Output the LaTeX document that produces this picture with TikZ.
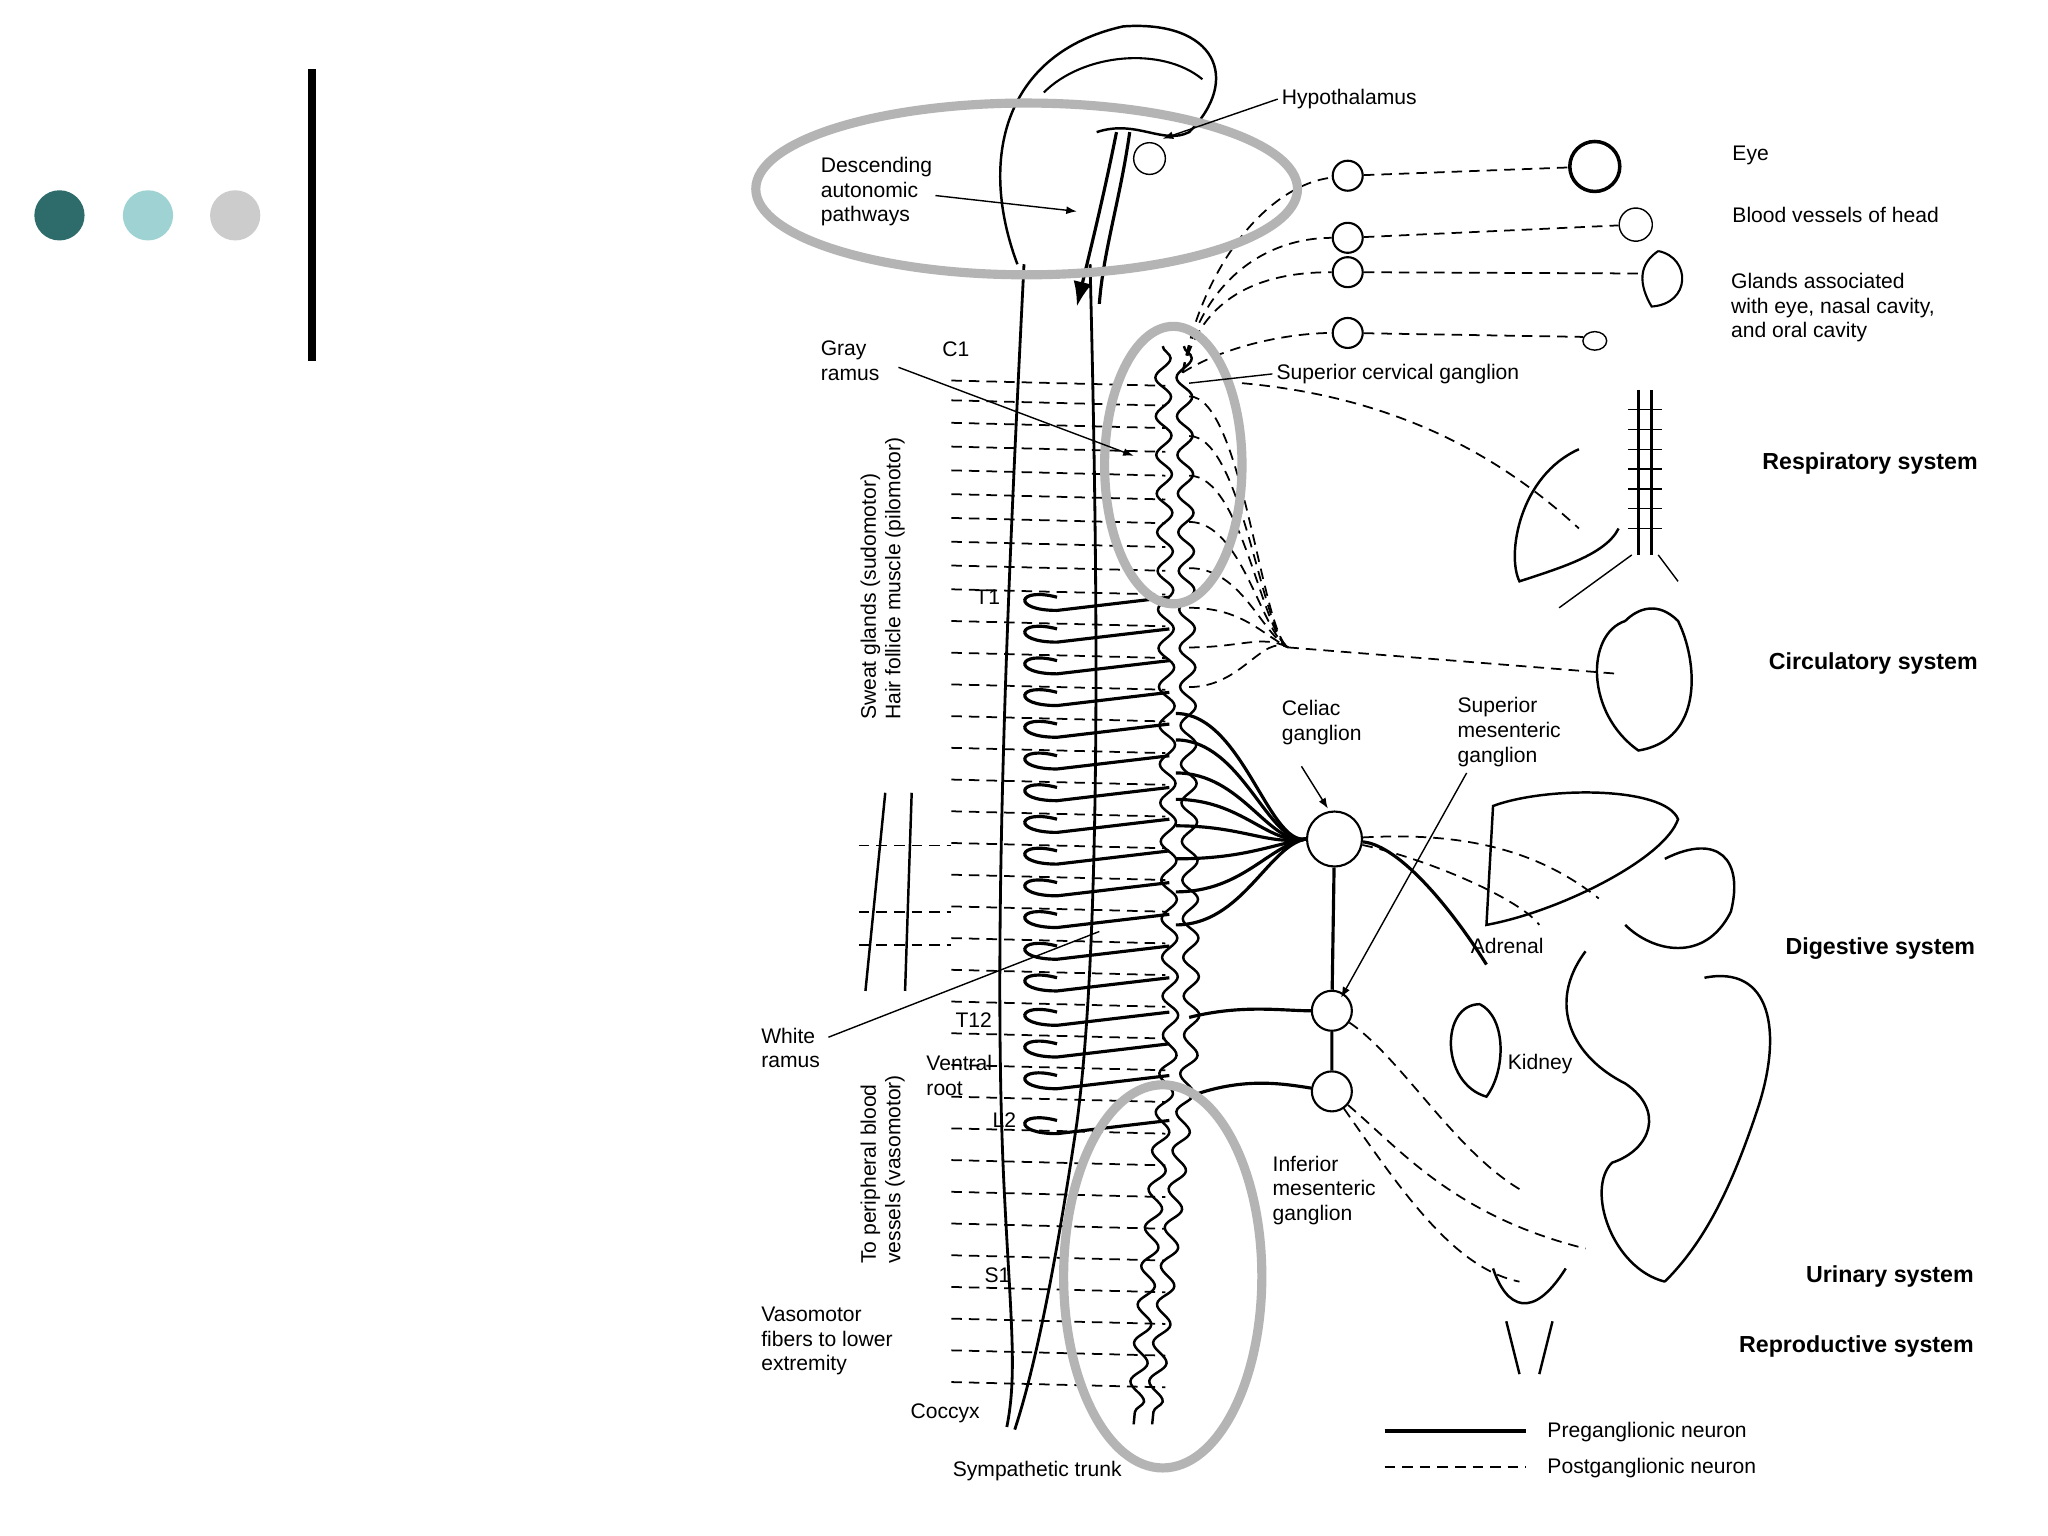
\documentclass[tikz,border=0pt]{standalone}
\usepackage{fontspec}
\setmainfont{Liberation Sans}
\usetikzlibrary{decorations.pathmorphing,arrows.meta,shapes.geometric}
\definecolor{dteal}{HTML}{2E6B6B}
\definecolor{lteal}{HTML}{9FD3D3}
\definecolor{lgray}{HTML}{CCCCCC}
\definecolor{ring}{HTML}{B4B4B4}
\tikzset{lbl/.style={font=\fontsize{6}{7}\selectfont,align=left,inner sep=1pt},
 post/.style={dashed,line width=0.5pt,dash pattern=on 3pt off 2pt},
 pre/.style={line width=0.9pt},
 gang/.style={circle,draw,line width=0.6pt,minimum size=0.3cm,inner sep=0pt},
 hl/.style={draw=ring,line width=2.6pt},
 trunk/.style={line width=0.7pt,decorate,decoration={snake,amplitude=2.2pt,segment length=11pt}}}
\begin{document}
\begin{tikzpicture}[x=0.01321cm,y=-0.01321cm]
\useasboundingbox (0,0) rectangle (1550,1162);
\fill[white] (0,0) rectangle (1550,1162);
% title dots and bar
\fill[dteal] (45,163) circle (19);
\fill[lteal] (112,163) circle (19);
\fill[lgray] (178,163) circle (19);
\fill[black] (233,52) rectangle (239,273);
% brain
\draw[line width=0.7pt] (770,200) .. controls (740,120) and (760,40) .. (850,20) .. controls (920,15) and (940,60) .. (900,100) .. controls (880,110) and (860,90) .. (830,100);
\draw[line width=0.6pt] (790,70) .. controls (820,40) and (880,35) .. (910,60);
\draw (870,120) circle (12);
% spinal cord
\draw[line width=0.8pt] (775,200) .. controls (765,400) and (750,700) .. (760,900) .. controls (765,1000) and (770,1040) .. (762,1080);
\draw[line width=0.8pt] (825,200) .. controls (830,400) and (835,700) .. (815,850) .. controls (800,950) and (785,1030) .. (768,1082);
% descending pathway arrows
\draw[pre,-{Latex}] (845,100) .. controls (835,150) and (825,190) .. (815,232);
\draw[pre] (855,100) .. controls (848,150) and (835,190) .. (832,230);
% sympathetic trunk
\draw[trunk] (880,262) -- (886,780) -- (858,1078);
\draw[trunk] (896,262) -- (902,780) -- (872,1078);
% left dashed lines (gray rami)
\foreach \y in {288,303,320,338,356,374,392,410,428,446,470,494,518,542,566,590,614,638,662,686,710,734,758,782,806,830,854,878,902,926,950,974,998,1022,1046}
  \draw[post] (720,\y) -- (882,\y+4);
% white ramus loops
\foreach \y in {452,476,500,524,548,572,596,620,644,668,692,716,740,766,790,814,848}
  \draw[line width=0.9pt] (800,\y) .. controls (770,\y-8) and (765,\y+10) .. (800,\y+10) -- (885,\y);
% ganglia head
\node[gang] (g1) at (1020,133) {};
\node[gang] (g2) at (1020,180) {};
\node[gang] (g3) at (1020,206) {};
\node[gang] (g4) at (1020,252) {};
\node[gang,minimum size=0.55cm] (cel) at (1010,635) {};
\node[gang,minimum size=0.4cm] (sup) at (1008,765) {};
\node[gang,minimum size=0.4cm] (inf) at (1008,826) {};
\coordinate (sc) at (895,282);
\draw[post] (sc) .. controls (910,200) and (960,140) .. (g1);
\draw[post] (sc) .. controls (910,210) and (960,180) .. (g2);
\draw[post] (sc) .. controls (910,220) and (960,206) .. (g3);
\draw[post] (sc) .. controls (930,260) and (980,252) .. (g4);
% organs head
\node[circle,draw,line width=1pt,minimum size=0.5cm] (eye) at (1207,126) {};
\node[ellipse,draw,minimum width=0.15cm,minimum height=0.25cm,rotate=40] (bv) at (1238,170) {};
\draw[line width=0.6pt] (1255,190) .. controls (1280,195) and (1280,230) .. (1250,232) .. controls (1240,215) and (1240,200) .. (1255,190);
\coordinate (gl) at (1242,207);
\draw (1207,258) ellipse (9 and 7);
\coordinate (oc) at (1198,255);
\draw[post] (g1) -- (eye);
\draw[post] (g2) -- (bv);
\draw[post] (g3) -- (gl);
\draw[post] (g4) -- (oc);
% lungs
\draw[line width=0.7pt] (1240,295) -- (1240,420) (1250,295) -- (1250,420);
\foreach \y in {310,325,340,355,370,385,400} \draw (1232,\y) -- (1258,\y);
\draw[line width=0.7pt] (1195,340) .. controls (1150,360) and (1140,420) .. (1150,440) .. controls (1180,430) and (1215,420) .. (1225,400);
\draw (1235,420) -- (1180,460) (1255,420) -- (1270,440);
% heart
\draw[line width=0.7pt] (1230,470) .. controls (1200,480) and (1200,540) .. (1240,568) .. controls (1290,560) and (1285,500) .. (1270,470) .. controls (1255,455) and (1240,460) .. (1230,470);
% thoracic posts
\coordinate (th) at (975,490);
\foreach \y in {300,330,360,395,430,460,490,520} \draw[post] (900,\y) .. controls (940,\y) and (955,480) .. (th);
\draw[post] (th) -- (1225,510);
\draw[post] (940,290) .. controls (1050,300) and (1130,340) .. (1195,400);
% preganglionic to celiac
\foreach \y in {540,560,585,605,625,650,675,700} \draw[pre] (890,\y) .. controls (940,\y) and (960,640) .. (cel.west);
\draw[pre] (cel) -- (sup) -- (inf);
\draw[pre] (900,770) .. controls (940,760) and (970,765) .. (sup);
\draw[pre] (900,830) .. controls (940,815) and (970,820) .. (inf);
\draw[pre] (cel) .. controls (1060,640) and (1100,690) .. (1125,730);
% digestive organs
\draw[line width=0.7pt] (1130,610) .. controls (1170,595) and (1260,595) .. (1270,620) .. controls (1260,650) and (1180,690) .. (1125,700) -- cycle;
\draw[line width=0.7pt] (1260,650) .. controls (1300,630) and (1320,650) .. (1310,690) .. controls (1290,730) and (1250,720) .. (1230,700);
\draw[line width=0.7pt] (1200,720) .. controls (1170,760) and (1190,800) .. (1230,820) .. controls (1260,840) and (1250,870) .. (1220,880) .. controls (1200,900) and (1220,960) .. (1260,970);
\draw[line width=0.7pt] (1290,740) .. controls (1340,730) and (1350,780) .. (1330,840) .. controls (1310,900) and (1290,940) .. (1260,970);
\draw[line width=0.7pt] (1120,760) .. controls (1090,760) and (1090,820) .. (1125,830) .. controls (1140,810) and (1140,770) .. (1120,760);
\draw[line width=0.7pt] (1130,960) .. controls (1140,990) and (1160,1000) .. (1185,960) (1140,1000) -- (1150,1040) (1175,1000) -- (1165,1040);
\draw[post] (cel) .. controls (1100,630) and (1160,640) .. (1210,680);
\draw[post] (cel) .. controls (1080,650) and (1150,680) .. (1165,700);
\draw[post] (sup) .. controls (1060,800) and (1100,870) .. (1150,900);
\draw[post] (inf) .. controls (1060,870) and (1100,920) .. (1200,945);
\draw[post] (inf) .. controls (1060,900) and (1100,960) .. (1150,970);
% limb
\draw[line width=0.7pt] (670,600) -- (655,750) (690,600) -- (685,750);
\draw[post] (650,640) -- (720,640) (650,690) -- (720,690) (650,715) -- (720,715);
% highlight ellipses
\draw[hl] (777,143) ellipse (205 and 65);
\draw[hl] (888,352) ellipse (52 and 105);
\draw[hl] (880,966) ellipse (75 and 145);
% labels
\node[lbl,anchor=west] (hyp) at (967,75) {Hypothalamus};
\draw[-{Latex[length=3pt]}] (hyp.west) -- (880,105);
\node[lbl,anchor=west] (dap) at (618,145) {Descending\\autonomic\\pathways};
\draw[-{Latex[length=3pt]}] (708,148) -- (815,160);
\node[lbl,anchor=west] at (618,273) {Gray\\ramus};
\draw[-{Latex[length=3pt]}] (680,278) -- (858,345);
\node[lbl,anchor=west] at (710,264) {C1};
\node[lbl,anchor=west] (scg) at (963,283) {Superior cervical ganglion};
\draw (scg.west) -- (900,290);
\node[lbl,anchor=west] at (735,452) {T1};
\node[lbl,anchor=west] at (720,772) {T12};
\node[lbl,anchor=west] at (748,848) {L2};
\node[lbl,anchor=west] at (742,965) {S1};
\node[lbl,anchor=west] at (686,1070) {Coccyx};
\node[lbl,anchor=west] at (698,814) {Ventral\\root};
\node[lbl,anchor=west] at (573,793) {White\\ramus};
\draw (627,785) -- (832,705);
\node[lbl,anchor=west] at (573,1015) {Vasomotor\\fibers to lower\\extremity};
\node[lbl] at (785,1113) {Sympathetic trunk};
\node[lbl,rotate=90] at (668,438) {Sweat glands (sudomotor)\\Hair follicle muscle (pilomotor)};
\node[lbl,rotate=90] at (668,885) {To peripheral blood\\vessels (vasomotor)};
\node[lbl,anchor=west] at (967,547) {Celiac\\ganglion};
\draw[-{Latex[length=3pt]}] (985,580) -- (1005,612);
\node[lbl,anchor=west] at (1100,554) {Superior\\mesenteric\\ganglion};
\draw[-{Latex[length=3pt]}] (1110,585) -- (1015,755);
\node[lbl,anchor=west] at (960,901) {Inferior\\mesenteric\\ganglion};
\node[lbl,anchor=west] at (1110,716) {Adrenal};
\node[lbl,anchor=west] at (1138,805) {Kidney};
\node[lbl,anchor=west] at (1308,118) {Eye};
\node[lbl,anchor=west] at (1308,163) {Blood vessels of head};
\node[lbl,anchor=west] at (1307,233) {Glands associated\\with eye, nasal cavity,\\and oral cavity};
\node[lbl,anchor=east,font=\bfseries\fontsize{6.6}{8}\selectfont] at (1500,351) {Respiratory system};
\node[lbl,anchor=east,font=\bfseries\fontsize{6.6}{8}\selectfont] at (1500,502) {Circulatory system};
\node[lbl,anchor=east,font=\bfseries\fontsize{6.6}{8}\selectfont] at (1498,718) {Digestive system};
\node[lbl,anchor=east,font=\bfseries\fontsize{6.6}{8}\selectfont] at (1497,966) {Urinary system};
\node[lbl,anchor=east,font=\bfseries\fontsize{6.6}{8}\selectfont] at (1497,1019) {Reproductive system};
% legend
\draw[pre] (1048,1083) -- (1155,1083);
\draw[post] (1048,1110) -- (1155,1110);
\node[lbl,anchor=west] at (1168,1084) {Preganglionic neuron};
\node[lbl,anchor=west] at (1168,1111) {Postganglionic neuron};
\end{tikzpicture}
\end{document}
